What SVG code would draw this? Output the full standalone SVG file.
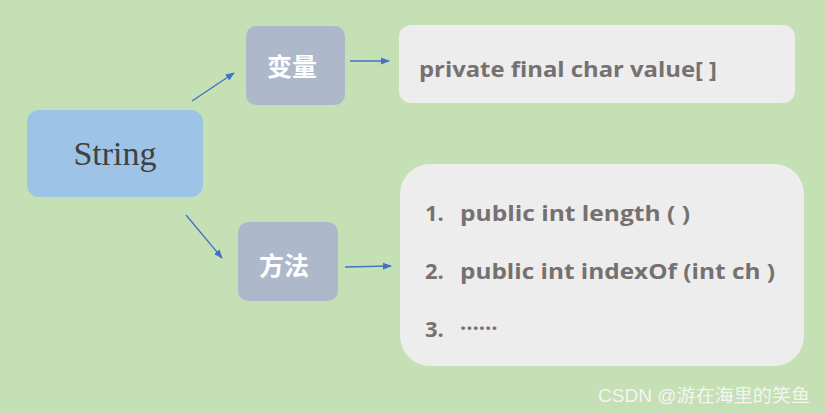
<svg xmlns="http://www.w3.org/2000/svg" width="826" height="414" viewBox="0 0 826 414">
<style>
.t{font-family:"Open Sans","Liberation Sans",Arial,sans-serif;font-weight:bold;fill:#767171;font-size:22px}
.c{font-family:"Noto Sans CJK SC",sans-serif;font-weight:bold;fill:#fff;font-size:25px}
.a{stroke:#4472c4;stroke-width:1.3;fill:none;marker-end:url(#m)}
</style>
<defs><marker id="m" viewBox="0 0 10 10" refX="9" refY="5" markerWidth="7" markerHeight="7" orient="auto"><path d="M0,1 L10,5 L0,9 z" fill="#4472c4"/></marker></defs>
<rect width="826" height="414" fill="#c5e0b4"/>
<g id="string"><rect x="27" y="110" width="176" height="87" rx="12" fill="#9dc3e6"/><text x="115" y="165" text-anchor="middle" font-family="Liberation Serif,serif" font-size="34" fill="#404040">String</text></g>
<g id="var"><rect x="246" y="26" width="99" height="79" rx="10" fill="#adb9ca"/><text class="c" x="292" y="76" text-anchor="middle">变量</text></g>
<g id="method"><rect x="238" y="222" width="100" height="79" rx="10" fill="#adb9ca"/><text class="c" x="284" y="275" text-anchor="middle">方法</text></g>
<g id="field"><rect x="399" y="25" width="396" height="78" rx="12" fill="#ededed"/><text class="t" x="419" y="77" textLength="298" lengthAdjust="spacingAndGlyphs">private final char value[ ]</text></g>
<g id="methods"><rect x="400" y="164" width="404" height="202" rx="30" fill="#ededed"/>
<text class="t" x="425" y="221">1.</text><text class="t" x="460" y="221" textLength="230" lengthAdjust="spacingAndGlyphs">public int length ( )</text>
<text class="t" x="425" y="279">2.</text><text class="t" x="460" y="279" textLength="315" lengthAdjust="spacingAndGlyphs">public int indexOf (int ch )</text>
<text class="t" x="425" y="337">3.</text><text class="t" x="460" y="330">……</text></g>
<g id="connectors">
<path class="a" d="M192,101 L234,73"/>
<path class="a" d="M186,215 L222,258"/>
<path class="a" d="M350,61 L389,61"/>
<path class="a" d="M345,267 L391,266"/>
</g>
<text x="598" y="402" font-family="Liberation Sans,Noto Sans CJK SC,sans-serif" font-size="18" fill="#f4f4f4" textLength="212" lengthAdjust="spacingAndGlyphs">CSDN @游在海里的笑鱼</text>
</svg>
